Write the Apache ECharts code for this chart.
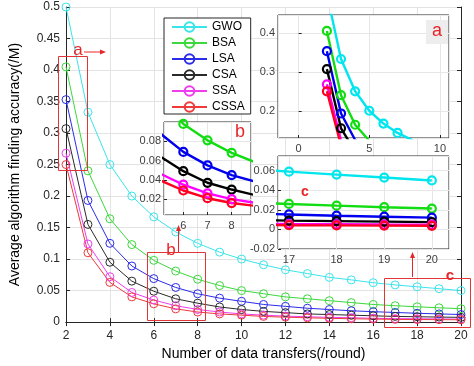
<!DOCTYPE html>
<html><head><meta charset="utf-8">
<script src="https://cdn.jsdelivr.net/npm/echarts@6/dist/echarts.min.js"></script>
<style>html,body{margin:0;padding:0;background:#fff}#c{width:474px;height:366px}</style>
</head><body><div id="c"></div>
<script>
// ---- data ----
const rounds = [2,3,4,5,6,7,8,9,10,11,12,13,14,15,16,17,18,19,20];
const GWO  = [0.5,0.333,0.25,0.2,0.167,0.143,0.125,0.111,0.1,0.091,0.083,0.077,0.071,0.067,0.0625,0.059,0.056,0.053,0.05];
const BSA  = [0.405,0.240,0.164,0.123,0.098,0.081,0.068,0.058,0.050,0.045,0.040,0.037,0.034,0.031,0.028,0.026,0.0243,0.0227,0.0213];
const LSA  = [0.353,0.193,0.125,0.089,0.069,0.055,0.045,0.038,0.033,0.028,0.025,0.022,0.020,0.018,0.0165,0.0153,0.014,0.013,0.012];
const CSA  = [0.307,0.155,0.095,0.065,0.049,0.037,0.030,0.024,0.020,0.017,0.015,0.013,0.012,0.011,0.010,0.009,0.0085,0.008,0.0075];
const SSA  = [0.268,0.124,0.072,0.047,0.035,0.026,0.020,0.016,0.013,0.011,0.0095,0.0085,0.0075,0.007,0.006,0.0055,0.0053,0.005,0.0048];
const CSSA = [0.25,0.11,0.063,0.040,0.029,0.021,0.016,0.013,0.011,0.009,0.0078,0.0068,0.006,0.0053,0.0048,0.0043,0.0041,0.0039,0.0037];
const names = ['GWO','BSA','LSA','CSA','SSA','CSSA'];
const values = [GWO,BSA,LSA,CSA,SSA,CSSA];
const mainColors  = ['#3ae4ea','#3cd83c','#2b2bea','#2a2a2a','#ee3cee','#ee3a3a'];
const insetColors = ['#00e6ee','#12dd12','#0000ee','#000000','#ff00ff','#ff0020'];
const xTitle = 'Number of data transfers(/round)';
const yTitle = 'Average algorithm finding accuracy(/M)';
// zoom regions [xmin,xmax,ymin,ymax] in main-chart data units
const zoomA = [1.64, 2.98, 0.241, 0.4225];
const zoomB = [5.71, 8.34, 0.0044, 0.112];
const zoomC = [16.5, 20.4, -0.007, 0.070];

const FONT = 'Liberation Sans, Arial, sans-serif';
const TXT = '#262626';
const chart = echarts.init(document.getElementById('c'), null, {renderer:'canvas'});

function mk(name, vals, color, idx, main) {
  return {
    type:'line', name: name, xAxisIndex: idx, yAxisIndex: idx,
    data: rounds.map((r,i)=>[r, vals[i]]),
    symbol:'circle', symbolSize: 8, showSymbol:true, clip:true,
    lineStyle:{color:color, width: main ? 1 : 2.4},
    itemStyle:{color:'rgba(255,255,255,0)', borderColor:color, borderWidth: main ? 1 : 2.2},
    z: main ? 2 : 12, animation:false, silent:true, emphasis:{disabled:true}
  };
}
const series = [];
names.forEach((n,i)=>series.push(mk(n, values[i], mainColors[i], 0, true)));
[2,3,4].forEach(ax=>{
  names.forEach((n,i)=>series.push(mk(n+'_'+ax, values[i], insetColors[i], ax, false)));
});

function insetX(grid, min, max, split) {
  return {type:'value', gridIndex:grid, min:min, max:max, splitNumber:split, z:11,
    axisLine:{show:false}, axisTick:{show:true, inside:true, length:3, lineStyle:{color:TXT}},
    axisLabel:{color:'#404040', fontSize:11, fontFamily:FONT, margin:5, showMinLabel:false, showMaxLabel:false},
    splitLine:{show:true, lineStyle:{color:'#e6e6e6', width:1}}};
}
function insetY(grid, min, max, split, showMin) {
  return {type:'value', gridIndex:grid, min:min, max:max, splitNumber:split, z:11,
    axisLine:{show:false}, axisTick:{show:true, inside:true, length:3, lineStyle:{color:TXT}},
    axisLabel:{color:'#404040', fontSize:11, fontFamily:FONT, margin:3, showMinLabel:showMin, showMaxLabel:false},
    splitLine:{show:true, lineStyle:{color:'#e6e6e6', width:1}}};
}

const option = {
  animation:false,
  backgroundColor:'#fff',
  grid:[
    {left:58, top:7, width:403, height:320, show:false},
    {left:278, top:15, width:171, height:123, show:true, backgroundColor:'#fff', borderColor:TXT, borderWidth:1, z:10},
    {left:164, top:122, width:87, height:93, show:true, backgroundColor:'#fff', borderColor:TXT, borderWidth:1, z:10},
    {left:278, top:156, width:171, height:93, show:true, backgroundColor:'#fff', borderColor:TXT, borderWidth:1, z:10}
  ],
  xAxis:[
    {type:'value', gridIndex:0, min:2, max:20, interval:2, position:'bottom',
      name:xTitle, nameLocation:'middle', nameGap:21,
      nameTextStyle:{fontSize:14, color:'#000', fontFamily:FONT},
      axisLine:{show:true, lineStyle:{color:TXT}}, axisTick:{inside:true, length:4, lineStyle:{color:TXT}},
      axisLabel:{color:TXT, fontSize:12, fontFamily:FONT, margin:8},
      splitLine:{show:true, lineStyle:{color:'#e3e3e3'}}},
    {type:'value', gridIndex:0, min:2, max:20, interval:2, position:'top',
      axisLine:{show:true, lineStyle:{color:TXT}}, axisTick:{inside:true, length:4, lineStyle:{color:TXT}},
      axisLabel:{show:false}, splitLine:{show:false}},
    insetX(1, -1.46, 10.64, 3),
    insetX(2, 5.2, 8.8, 4),
    insetX(3, 16.77, 20.36, 4)
  ],
  yAxis:[
    {type:'value', gridIndex:0, min:0, max:0.5, interval:0.05, position:'left',
      name:yTitle, nameLocation:'middle', nameGap:44,
      nameTextStyle:{fontSize:14, color:'#000', fontFamily:FONT},
      axisLine:{show:true, lineStyle:{color:TXT}}, axisTick:{inside:true, length:4, lineStyle:{color:TXT}},
      axisLabel:{color:TXT, fontSize:12, fontFamily:FONT, margin:6},
      splitLine:{show:true, lineStyle:{color:'#e3e3e3'}}},
    {type:'value', gridIndex:0, min:0, max:0.5, interval:0.05, position:'right',
      axisLine:{show:true, lineStyle:{color:TXT}}, axisTick:{inside:true, length:4, lineStyle:{color:TXT}},
      axisLabel:{show:false}, splitLine:{show:false}},
    insetY(1, 0.13, 0.446, 3, false),
    insetY(2, 0.0036, 0.1, 5, false),
    insetY(3, -0.02, 0.075, 5, true)
  ],
  legend:{
    data:names, orient:'vertical', left:164, top:18, z:20,
    itemWidth:35, itemHeight:12, itemGap:4, padding:[3,6,1,7],
    backgroundColor:'#fff', borderColor:TXT, borderWidth:1, borderRadius:0,
    textStyle:{fontSize:12, color:'#000', fontFamily:FONT},
    selectedMode:false
  },
  series:series
};
chart.setOption(option);

function rectFrom(z) {
  const p1 = chart.convertToPixel({gridIndex:0}, [z[0], z[3]]);
  const p2 = chart.convertToPixel({gridIndex:0}, [z[1], z[2]]);
  return {type:'rect', z:50, silent:true,
    shape:{x:Math.round(p1[0])+0.5, y:Math.round(p1[1])+0.5, width:Math.round(p2[0]-p1[0]), height:Math.round(p2[1]-p1[1])},
    style:{fill:null, stroke:'#e23535', lineWidth:1}};
}
const RED = '#e8262a';
function label(t, x, y, size, bold) {
  return {type:'text', z:60, silent:true, x:x, y:y,
    style:{text:t, fill:RED, font:(bold?'bold ':'')+size+'px '+FONT, align:'center', verticalAlign:'middle'}};
}
function arrowH(x1, x2, y) {
  return [
    {type:'line', z:55, silent:true, shape:{x1:x1, y1:y, x2:x2-5, y2:y}, style:{stroke:RED, lineWidth:1}},
    {type:'polygon', z:55, silent:true, shape:{points:[[x2,y],[x2-6,y-2.5],[x2-6,y+2.5]]}, style:{fill:RED}}
  ];
}
function arrowV(x, y1, y2) {
  return [
    {type:'line', z:55, silent:true, shape:{x1:x, y1:y1, x2:x, y2:y2+5}, style:{stroke:RED, lineWidth:1}},
    {type:'polygon', z:55, silent:true, shape:{points:[[x,y2],[x-2.5,y2+6],[x+2.5,y2+6]]}, style:{fill:RED}}
  ];
}
const graphics = [
  rectFrom(zoomA), rectFrom(zoomB), rectFrom(zoomC),
  label('a', 78, 50, 17, false), ...arrowH(84, 106, 52),
  label('b', 171, 250, 17, false), ...arrowV(178.5, 252, 225),
  label('c', 450, 276, 15, true), ...arrowV(412.5, 277, 252),
  {type:'rect', z:58, silent:true, shape:{x:426, y:20, width:22, height:24}, style:{fill:'#ededed'}},
  label('a', 437, 31, 18, false),
  label('b', 240, 132, 18, false),
  label('c', 305, 192, 14, true)
];
chart.setOption({graphic:graphics});
</script></body></html>
